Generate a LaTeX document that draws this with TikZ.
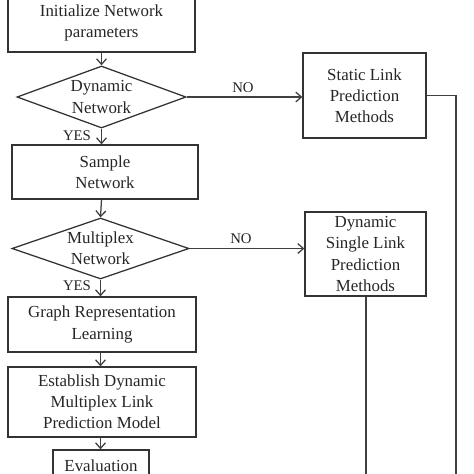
\documentclass[tikz,border=0pt]{standalone}
\usepackage{fontspec}
\setmainfont{Liberation Serif}
\usetikzlibrary{shapes.geometric,arrows.meta}

\begin{document}
\begin{tikzpicture}[x=0.025cm, y=-0.025cm,
    box/.style={draw=black!80, line width=0.9pt, align=center, inner sep=0pt,
        text=black!85, font=\fontsize{12}{15}\selectfont},
    test/.style={box, diamond, aspect=2.75},
    lab/.style={text=black!85, font=\fontsize{10.5}{12}\selectfont},
    link/.style={draw=black!75, line width=0.9pt},
    arr/.style={link, -{Straight Barb[length=4pt,width=7pt]}}]
    \useasboundingbox (0,0) rectangle (474,474);
    \clip (0,0) rectangle (474,474);

    % main column
    \node[box, minimum width=4.675cm, minimum height=1.45cm] (init) at (101.5,23) {Initialize Network\\parameters};
    \node[test, minimum width=4.225cm, minimum height=1.55cm] (dyn) at (101.5,97) {Dynamic\\Network};
    \node[box, minimum width=4.65cm, minimum height=1.35cm] (sample) at (105,172) {Sample\\Network};
    \node[test, minimum width=4.425cm, minimum height=1.525cm] (multi) at (100.5,248.5) {Multiplex\\Network};
    \node[box, minimum width=4.7cm, minimum height=1.375cm] (graph) at (102,324.5) {Graph Representation\\Learning};
    \node[box, minimum width=4.7cm, minimum height=1.75cm] (model) at (102,402) {Establish Dynamic\\Multiplex Link\\Prediction Model};
    \node[box, minimum width=2.4cm, minimum height=0.8cm] (eval) at (101,466) {Evaluation};

    % side column
    \node[box, minimum width=3.075cm, minimum height=2.125cm] (static) at (364.5,95.5) {Static Link\\Prediction\\Methods};
    \node[box, minimum width=3.025cm, minimum height=2.1cm] (single) at (365.5,254) {Dynamic\\Single Link\\Prediction\\Methods};

    \coordinate (sEnd) at (456,480);
    \coordinate (dEnd) at (366,480);

    \draw[arr] (init.south -| dyn.north) -- (dyn.north);
    \draw[arr] (dyn.south) -- (dyn.south |- sample.north);
    \draw[arr] (dyn.south |- sample.south) -- (multi.north);
    \draw[arr] (multi.south) -- (multi.south |- graph.north);
    \draw[arr] (multi.south |- graph.south) -- (multi.south |- model.north);
    \draw[arr] (multi.south |- model.south) -- (multi.south |- eval.north);

    \draw[arr] (dyn.east) -- (dyn.east -| static.west);
    \draw[arr] (multi.east) -- (multi.east -| single.west);
    \draw[link] (static.east) -| (sEnd);
    \draw[link] (single.south -| dEnd) -- (dEnd);

    \node[lab] at (77,136) {YES};
    \node[lab] at (77,286) {YES};
    \node[lab] at (243,88) {NO};
    \node[lab] at (241,239) {NO};
\end{tikzpicture}
\end{document}
